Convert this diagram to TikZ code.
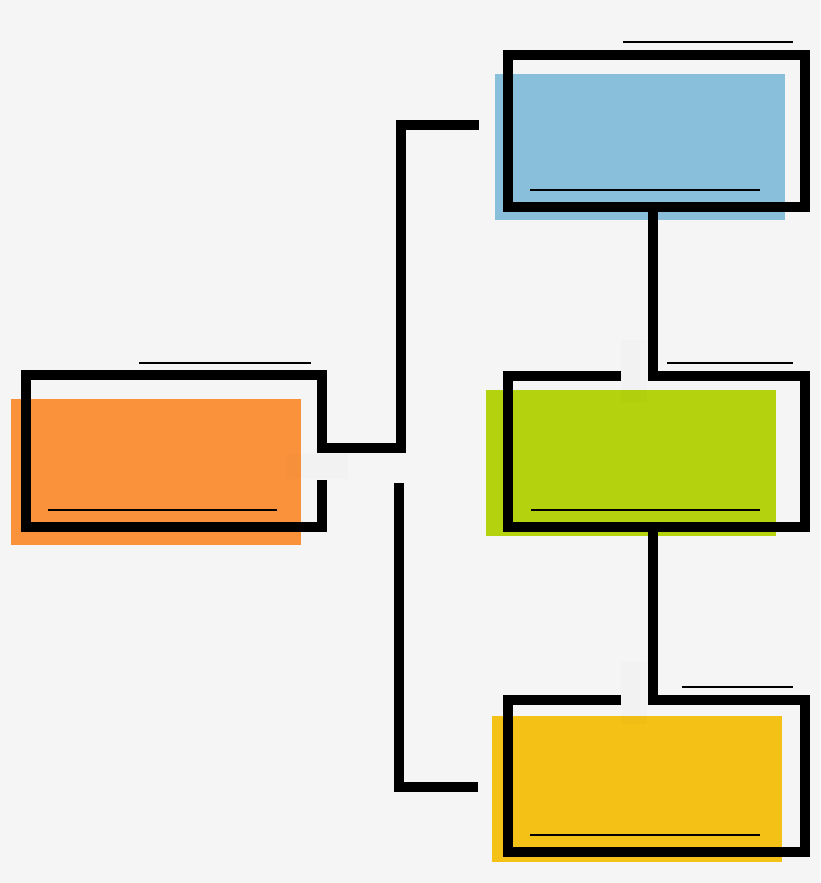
\documentclass[tikz,border=0pt]{standalone}
\usepackage{xcolor}
\usepackage{tikz}

\definecolor{bgcol}{HTML}{F5F5F5}
\definecolor{orangefill}{HTML}{F9923B}
\definecolor{bluefill}{HTML}{89BFDB}
\definecolor{greenfill}{HTML}{B5D20E}
\definecolor{yellowfill}{HTML}{F4C116}

\begin{document}
\begin{tikzpicture}[x=1pt, y=-1pt,
    block/.style={rectangle, inner sep=0pt, anchor=north west, minimum width=290pt, minimum height=146pt},
    frame/.style={line width=10pt, line join=miter, line cap=butt},
    link/.style={line width=10pt, line cap=rect},
    rule/.style={line width=2.5pt},
    patch/.style={fill=black, opacity=0.012}]
    % Background and page size
    \fill[bgcol] (0,0) rectangle (820,883);
    \useasboundingbox (0,0) rectangle (820,883);

    % Colour blocks
    \node[block, fill=orangefill] (orangebox) at (11,399) {};
    \node[block, fill=bluefill] (bluebox) at (495,74) {};
    \node[block, fill=greenfill] (greenbox) at (486,390) {};
    \node[block, fill=yellowfill] (yellowbox) at (492,716) {};

    % Ports of the frames
    \coordinate (oport) at (322,448);
    \coordinate (ofork) at (399,488);
    \coordinate (bport) at (474,125);
    \coordinate (yport) at (473,787);
    \coordinate (bbot) at (653,207);
    \coordinate (gtop) at (653,376);
    \coordinate (gbot) at (653,527);
    \coordinate (ytop) at (653,700);

    % Frames
    \draw[frame] (322,480) -- (322,527) -- (26,527) -- (26,375) -- (322,375) -- (oport);
    \draw[frame] (508,55) rectangle (805,207);
    \draw[frame] (621,376) -- (508,376) -- (508,527) -- (805,527) -- (805,376) -- (gtop);
    \draw[frame] (621,700) -- (508,700) -- (508,852) -- (805,852) -- (805,700) -- (ytop);

    % Title and caption rules
    \draw[rule] (139,363) -- (311,363);
    \draw[rule] (48,510) -- (277,510);
    \draw[rule] (623,42) -- (793,42);
    \draw[rule] (530,190) -- (760,190);
    \draw[rule] (667,363) -- (793,363);
    \draw[rule] (531,510) -- (760,510);
    \draw[rule] (682,687) -- (793,687);
    \draw[rule] (530,835) -- (760,835);

    % Edges
    \draw[link] (oport) -- (401,448) -- (401,125) -- (bport);
    \draw[link] (ofork) -- (399,787) -- (yport);
    \draw[link] (bbot) -- (gtop);
    \draw[link] (gbot) -- (ytop);

    % Faint patches in the gaps
    \fill[patch] (286,454) rectangle (348,479);
    \fill[patch] (621,340) rectangle (647,402);
    \fill[patch] (621,662) rectangle (647,724);
\end{tikzpicture}
\end{document}
